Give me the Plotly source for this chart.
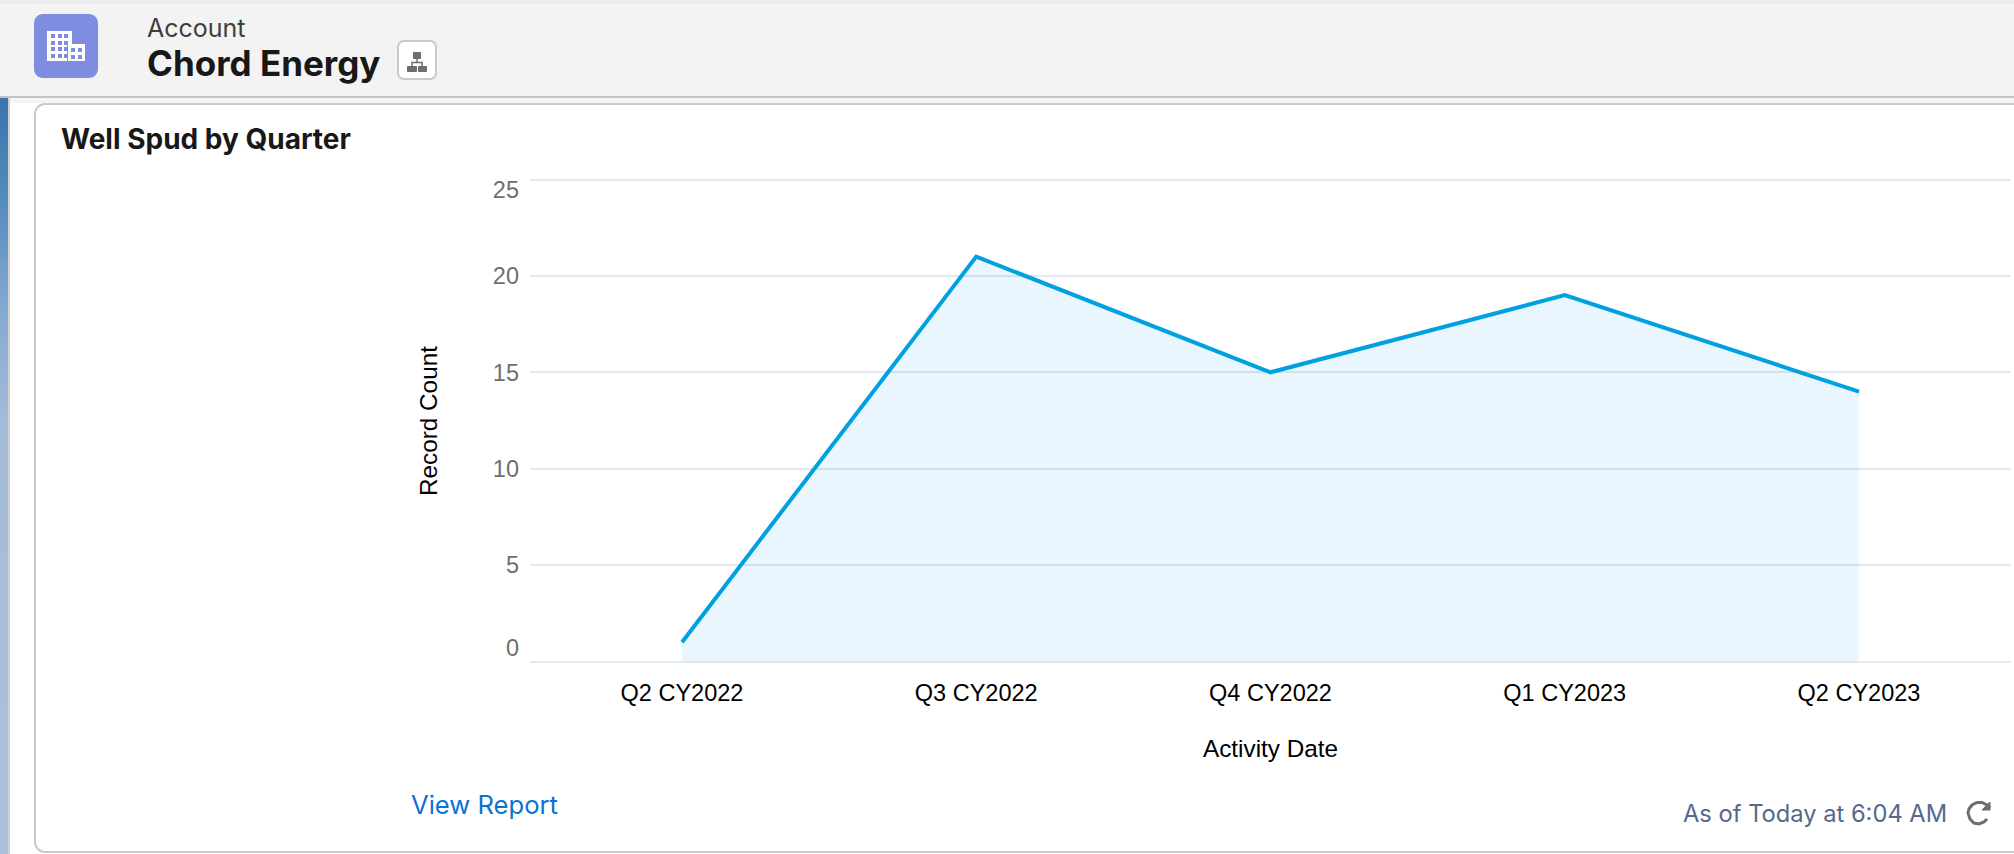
import plotly.graph_objects as go

# ---- data ----
quarters = ["Q2 CY2022", "Q3 CY2022", "Q4 CY2022", "Q1 CY2023", "Q2 CY2023"]
record_count = [1, 21, 15, 19, 14]
y_ticks = [0, 5, 10, 15, 20, 25]
y_inner_ticks = [5, 10, 15, 20]
y_end_ticks = [0, 25]

W, H = 2014, 854
def X(p): return p / W
def Y(p): return 1 - p / H

shapes = []
def rect(x0, y0, x1, y1, fill, line=None, lw=0, layer="below"):
    shapes.append(dict(type="rect", xref="paper", yref="paper", x0=X(x0), x1=X(x1), y0=Y(y0), y1=Y(y1),
                       fillcolor=fill, line=dict(color=line or fill, width=lw), layer=layer))
def rrect(x0, y0, x1, y1, r, fill, line=None, lw=0, layer="below", open_right=False):
    k = 0.45 * r
    P = lambda x, y: f"{X(x):.6f},{Y(y):.6f}"
    if open_right:
        d = (f"M{P(x1,y0)} L{P(x0+r,y0)} C{P(x0+k,y0)} {P(x0,y0+k)} {P(x0,y0+r)} L{P(x0,y1-r)} "
             f"C{P(x0,y1-k)} {P(x0+k,y1)} {P(x0+r,y1)} L{P(x1,y1)}")
    else:
        d = (f"M{P(x0+r,y0)} L{P(x1-r,y0)} C{P(x1-k,y0)} {P(x1,y0+k)} {P(x1,y0+r)} L{P(x1,y1-r)} "
             f"C{P(x1,y1-k)} {P(x1-k,y1)} {P(x1-r,y1)} L{P(x0+r,y1)} C{P(x0+k,y1)} {P(x0,y1-k)} {P(x0,y1-r)} "
             f"L{P(x0,y0+r)} C{P(x0,y0+k)} {P(x0+k,y0)} {P(x0+r,y0)} Z")
    shapes.append(dict(type="path", xref="paper", yref="paper", path=d, fillcolor=fill,
                       line=dict(color=line or "rgba(0,0,0,0)", width=lw), layer=layer))
def poly(pts, color, width, fill=None):
    d = "M" + " L".join(f"{X(a):.6f},{Y(b):.6f}" for a, b in pts)
    shapes.append(dict(type="path", xref="paper", yref="paper", path=d,
                       fillcolor=fill or "rgba(0,0,0,0)", line=dict(color=color, width=width), layer="above"))

# left background strip, as bands of a vertical gradient
stops = [(97, (62, 115, 172)), (200, (86, 140, 190)), (300, (130, 168, 208)), (420, (165, 187, 218)), (854, (172, 192, 222))]
for y in range(97, 854, 6):
    for (a, ca), (b, cb) in zip(stops, stops[1:]):
        if a <= y <= b:
            t = (y - a) / (b - a)
            c = tuple(round(u + (v - u) * t) for u, v in zip(ca, cb))
            rect(0, y, 8, y + 8, f"rgb{c}")
            break
rect(8, 97, 10, 854, "#cfcfcf")

# header band
rect(0, 0, W, 96, "#f3f3f3")
rect(0, 0, W, 4, "#ececec")
rect(0, 96, W, 98, "#c4c4c4")
rect(10, 98, W, 103, "#f4f4f4")
# card
rrect(35, 104, W + 10, 852, 10, "#ffffff", "#c9c9c9", 2, open_right=True)

# account icon
rrect(34, 14, 98, 78, 9, "#7f8de1")
rect(47, 31, 72, 44, "#ffffff")
rect(47, 44, 67, 61, "#ffffff")
rect(68, 44, 85, 61, "#ffffff")
for yy in (36, 43, 49, 56):
    for xx in (53, 60, 66):
        rect(xx - 2, yy - 2, xx + 2, yy + 2, "#7f8de1")
for yy in (50, 57):
    for xx in (73, 80):
        rect(xx - 2, yy - 2, xx + 2, yy + 2, "#7f8de1")

# hierarchy button
rrect(398, 41, 436, 79, 6, "#ffffff", "#c9c9c9", 2)
gray = "#706e6b"
rrect(413, 52, 421, 59, 1, gray)
rrect(407, 66, 417, 72, 1, gray)
rrect(418, 66, 427, 72, 1, gray)
poly([(417, 59), (417, 63)], gray, 1.5)
poly([(412, 66), (412, 62.5), (422, 62.5), (422, 66)], gray, 1.5)

# refresh icon
poly([(1990, 808), (1987, 805), (1982, 802.5), (1977, 802.5), (1972, 805), (1969, 809), (1968, 813),
      (1970, 819), (1974, 823), (1979, 824), (1984, 822), (1987, 819)], gray, 3)
poly([(1990, 802), (1990, 810), (1982, 810), (1990, 802)], gray, 1, fill=gray)

L = "Liberation Sans"
S = "Inter"
def text(x, y, s, size, color, family, anchor="left", angle=0, bold=False):
    return dict(xref="paper", yref="paper", x=X(x), y=Y(y), text=f"<b>{s}</b>" if bold else s,
                showarrow=False, xanchor=anchor, yanchor="middle", textangle=angle,
                font=dict(size=size, color=color, family=family))

annotations = [
    text(145, 28, "Account", 25, "#3e3e3c", S),
    text(145, 63, "Chord Energy", 35, "#181818", S, bold=True),
    text(59, 139, "Well Spud by Quarter", 28, "#181818", S, bold=True),
    text(428, 421, "Record Count", 24.3, "#000000", L, "center", -90),
    text(1270, 748, "Activity Date", 24.3, "#000000", L, "center"),
    text(409, 804, "View Report", 25.6, "#0b72d6", S),
    text(1949, 813, "As of Today at 6:04 AM", 23.7, "#54698d", S, "right"),
]

fig = go.Figure()
fig.add_trace(go.Scatter(
    x=quarters, y=record_count, mode="lines", fill="tozeroy",
    line=dict(color="#00a1e0", width=4), fillcolor="rgba(0,150,230,0.085)",
    hoverinfo="skip", showlegend=False, cliponaxis=False))
# same values on overlaid axes that only carry tick labels: 5-20 line up with the grid, 0 and 25 sit inside it
fig.add_trace(go.Scatter(
    x=quarters, y=record_count, yaxis="y2", mode="lines", line=dict(width=0, color="rgba(0,0,0,0)"),
    hoverinfo="skip", showlegend=False))
fig.add_trace(go.Scatter(
    x=quarters, y=record_count, yaxis="y3", mode="lines", line=dict(width=0, color="rgba(0,0,0,0)"),
    hoverinfo="skip", showlegend=False))

x0, x1 = 530, 2011
step = (1859 - 682) / 4
y_zero_px, px_per_unit = 661.5, 19.28
y_top_value = 25.2
label_font = dict(family=L, size=23.5, color="#706e6b")
fig.update_layout(
    width=W, height=H, autosize=False, margin=dict(l=0, r=0, t=0, b=0, autoexpand=False),
    paper_bgcolor="#ffffff", plot_bgcolor="rgba(0,0,0,0)",
    shapes=shapes, annotations=annotations,
    xaxis=dict(domain=[X(x0), X(x1)], type="category", range=[(x0 - 682) / step, (x1 - 682) / step],
               showgrid=False, showline=False, zeroline=False, fixedrange=True,
               ticks="outside", ticklen=10, tickcolor="rgba(0,0,0,0)", tickwidth=1,
               tickfont=dict(family=L, size=23.5, color="#000000")),
    yaxis=dict(domain=[Y(y_zero_px), Y(y_zero_px - y_top_value * px_per_unit)], range=[0, y_top_value],
               tickvals=y_ticks, showticklabels=False,
               gridcolor="#e1e8ee", gridwidth=2, zeroline=True, zerolinecolor="#e1e8ee", zerolinewidth=2,
               showline=False, ticks="", fixedrange=True),
    yaxis2=dict(domain=[Y(y_zero_px), Y(y_zero_px - y_top_value * px_per_unit)], range=[0, y_top_value],
                tickvals=y_inner_ticks, anchor="free", position=X(519),
                showgrid=False, zeroline=False, showline=False, ticks="",
                tickfont=label_font, fixedrange=True),
    yaxis3=dict(domain=[Y(648), Y(190)], range=[0, 25], tickvals=y_end_ticks, anchor="free", position=X(519),
                showgrid=False, zeroline=False, showline=False, ticks="",
                tickfont=label_font, fixedrange=True),
)
fig.write_html("out.html", config=dict(displayModeBar=False),
               post_script="document.body.style.margin='0';document.body.style.overflow='hidden';")
